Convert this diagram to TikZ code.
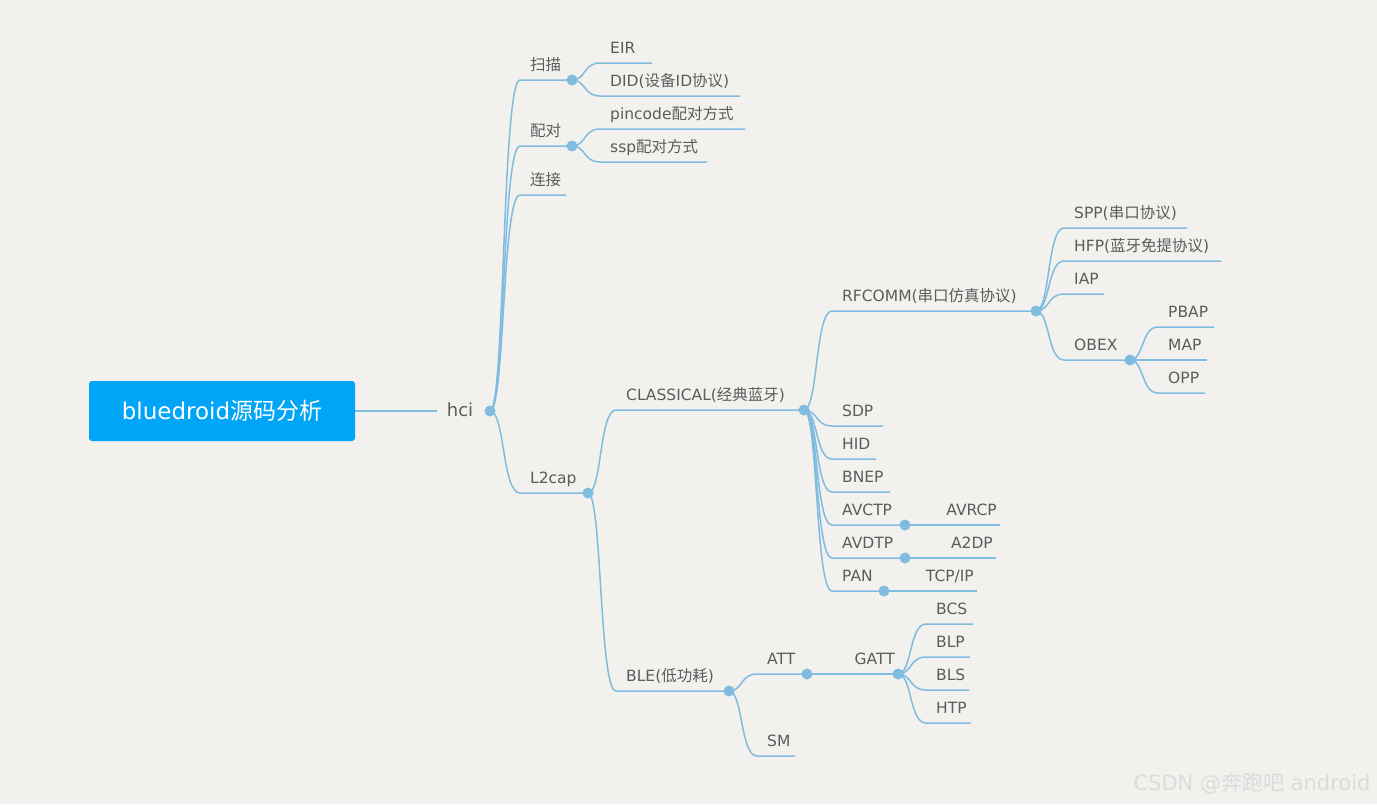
\documentclass[tikz,border=0pt]{standalone}
\usepackage{fontspec}
\setmainfont{DejaVu Sans}
\newfontfamily\cjkf{Noto Sans CJK SC}
\newcommand\cj[1]{{\cjkf #1}}
\definecolor{bg}{HTML}{F2F1EE}
\definecolor{ln}{HTML}{7FBCDF}
\definecolor{tx}{HTML}{5C5C5C}
\definecolor{rootc}{HTML}{00A5F7}
\tikzset{
  edge/.style={draw=ln,line width=1.5pt},
  lbl/.style={anchor=base west,inner sep=0pt,text=tx,font=\fontsize{15.5}{17}\selectfont},
  dot/.style={circle,fill=ln,inner sep=0pt,minimum size=11pt},
}
\usetikzlibrary{calc}
% \leaf{parent}{name}{x1}{x2}{y}{text}
\newcommand\leaf[6]{%
  \coordinate (#2s) at (#3,#5);
  \coordinate (#2e) at (#4,#5);
  \node[lbl] (#2) at (#3+10,#5-10) {#6};
  \draw[edge] (#1) .. controls ($(#1)!0.5!(#1-|#2s)$) and ($(#2s)!0.6!(#2s-|#1)$) .. (#2s) -- (#2e);
}
% \rleaf{from}{name}{x2}{y}{text}
\newcommand\rleaf[5]{%
  \draw[edge] (#1) -- (#3,#4);
  \node[lbl,anchor=base east] (#2) at (#3-3,#4-10) {#5};
}
\begin{document}
\begin{tikzpicture}[x=1pt,y=-1pt]
\fill[bg] (0,0) rectangle (1377,804);
\useasboundingbox (0,0) rectangle (1377,804);
\node[fill=rootc,rounded corners=3pt,minimum width=266pt,minimum height=60pt,text=white,font=\fontsize{23}{25}\selectfont] (root) at (222,411) {bluedroid\cj{源码分析}};
\node[lbl,anchor=center,font=\fontsize{18}{20}\selectfont] (hcit) at (460,410) {hci};
\draw[edge] (root.east) -- (437,411);
\coordinate (hci) at (490,411);
\leaf{hci}{scan}{520}{572}{80}{\cj{扫描}}
\leaf{hci}{pair}{520}{572}{146}{\cj{配对}}
\leaf{hci}{conn}{520}{566}{195}{\cj{连接}}
\leaf{hci}{l2}{520}{588}{493}{L2cap}
\coordinate (scand) at (572,80);
\leaf{scand}{eir}{600}{652}{63}{EIR}
\leaf{scand}{did}{600}{740}{96}{DID(\cj{设备}ID\cj{协议})}
\coordinate (paird) at (572,146);
\leaf{paird}{pin}{600}{745}{129}{pincode\cj{配对方式}}
\leaf{paird}{ssp}{600}{707}{162}{ssp\cj{配对方式}}
\coordinate (l2d) at (588,493);
\leaf{l2d}{cls}{616}{804}{410}{CLASSICAL(\cj{经典蓝牙})}
\leaf{l2d}{ble}{616}{729}{691}{BLE(\cj{低功耗})}
\coordinate (clsd) at (804,410);
\leaf{clsd}{rf}{832}{1036}{311}{RFCOMM(\cj{串口仿真协议})}
\leaf{clsd}{sdp}{832}{883}{426}{SDP}
\leaf{clsd}{hid}{832}{876}{459}{HID}
\leaf{clsd}{bnep}{832}{890}{492}{BNEP}
\leaf{clsd}{avctp}{832}{905}{525}{AVCTP}
\leaf{clsd}{avdtp}{832}{905}{558}{AVDTP}
\leaf{clsd}{pan}{832}{884}{591}{PAN}
\coordinate (rfd) at (1036,311);
\leaf{rfd}{spp}{1064}{1187}{228}{SPP(\cj{串口协议})}
\leaf{rfd}{hfp}{1064}{1221}{261}{HFP(\cj{蓝牙免提协议})}
\leaf{rfd}{iap}{1064}{1104}{294}{IAP}
\leaf{rfd}{obex}{1064}{1130}{360}{OBEX}
\coordinate (obexd) at (1130,360);
\leaf{obexd}{pbap}{1158}{1214}{327}{PBAP}
\leaf{obexd}{map}{1158}{1207}{360}{MAP}
\leaf{obexd}{opp}{1158}{1205}{393}{OPP}
\rleaf{avctpe}{avrcp}{1000}{525}{AVRCP}
\rleaf{avdtpe}{a2dp}{996}{558}{A2DP}
\rleaf{pane}{tcp}{977}{591}{TCP/IP}
\coordinate (bled) at (729,691);
\leaf{bled}{att}{757}{807}{674}{ATT}
\leaf{bled}{sm}{757}{795}{756}{SM}
\rleaf{atte}{gatt}{898}{674}{GATT}
\node[lbl,anchor=base east] at (888,664) {};
\coordinate (gattd) at (898,674);
\leaf{gattd}{bcs}{926}{973}{624}{BCS}
\leaf{gattd}{blp}{926}{970}{657}{BLP}
\leaf{gattd}{bls}{926}{969}{690}{BLS}
\leaf{gattd}{htp}{926}{971}{723}{HTP}
\foreach \d in {hci,scand,paird,l2d,clsd,rfd,obexd,avctpe,avdtpe,pane,bled,atte,gattd}
  \node[dot] at (\d) {};
\node[anchor=south east,text=white!72!gray,font=\fontsize{21}{23}\selectfont] (wm) at (1374,798) {CSDN @\cj{奔跑吧} android};
\end{tikzpicture}
\end{document}
